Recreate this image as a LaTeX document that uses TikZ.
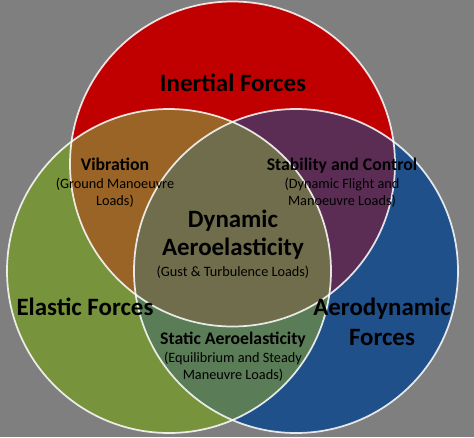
\documentclass[tikz,border=0pt]{standalone}
\usepackage{fontspec}
\setmainfont{Carlito}
\usetikzlibrary{positioning}
\definecolor{bggray}{HTML}{7F7F7F}
\definecolor{inertred}{HTML}{C00000}
\definecolor{elasgreen}{HTML}{77933C}
\definecolor{aeroblue}{HTML}{20508A}
\definecolor{vibbrown}{HTML}{9A6426}
\definecolor{stabpurple}{HTML}{5B2D54}
\definecolor{statgreen}{HTML}{5A7C56}
\definecolor{dynolive}{HTML}{6F6D4B}

\begin{document}
\begin{tikzpicture}[x=0.75pt, y=-0.75pt,
    every node/.style={inner sep=0pt, text=black, anchor=base},
    bigtitle/.style={font=\bfseries\fontsize{18.7}{22}\selectfont},
    subtitle/.style={font=\bfseries\fontsize{13.3}{16}\selectfont},
    loads/.style={font=\fontsize{10.7}{13}\selectfont},
    rim/.style={draw=white, line width=1.3pt, draw opacity=0.85}]
        % Background and circle centres
        \fill[bggray] (0,0) rectangle (474,437);
        \useasboundingbox (0,0) rectangle (474,437);
        \coordinate (inert) at (232.5,164);
        \coordinate (elas) at (169,271);
        \coordinate (aero) at (296,271);

        % The three force circles
        \fill[inertred] (inert) circle (162.5);
        \fill[elasgreen] (elas) circle (162);
        \fill[aeroblue] (aero) circle (162);

        % Overlaps of two circles
        \begin{scope}
          \clip (inert) circle (162.5);
          \fill[vibbrown] (elas) circle (162);
          \fill[stabpurple] (aero) circle (162);
        \end{scope}
        \begin{scope}
          \clip (elas) circle (162);
          \fill[statgreen] (aero) circle (162);
          % Overlap of all three
          \clip (aero) circle (162);
          \fill[dynolive] (inert) circle (162.5);
        \end{scope}

        % White rims
        \draw[rim] (inert) circle (162.5);
        \draw[rim] (elas) circle (162);
        \draw[rim] (aero) circle (162);

        % Forces
        \node[bigtitle] (inertial) at (233,91) {Inertial Forces};
        \node[bigtitle] (elastic) at (85,315) {Elastic Forces};
        \node[bigtitle] (aerodyn) at (382,315) {Aerodynamic};
        \node[bigtitle] (aeroforces) at (382,345) {Forces};

        % Vibration
        \node[subtitle] (vib) at (115,170) {Vibration};
        \node[loads] (vibload) at (115,188) {(Ground Manoeuvre};
        \node[loads] (vibload2) at (115,205) {Loads)};

        % Stability and control
        \node[subtitle] (stab) at (342,170) {Stability and Control};
        \node[loads] (stabload) at (342,188) {(Dynamic Flight and};
        \node[loads] (stabload2) at (342,205) {Manoeuvre Loads)};

        % Dynamic aeroelasticity
        \node[bigtitle] (dyn) at (233,227) {Dynamic};
        \node[bigtitle] (dyn2) at (233,255) {Aeroelasticity};
        \node[loads] (dynload) at (233,276) {(Gust \& Turbulence Loads)};

        % Static aeroelasticity
        \node[subtitle] (stat) at (233,344) {Static Aeroelasticity};
        \node[loads] (statload) at (233,362) {(Equilibrium and Steady};
        \node[loads] (statload2) at (233,379) {Maneuvre Loads)};
      \end{tikzpicture}
\end{document}
